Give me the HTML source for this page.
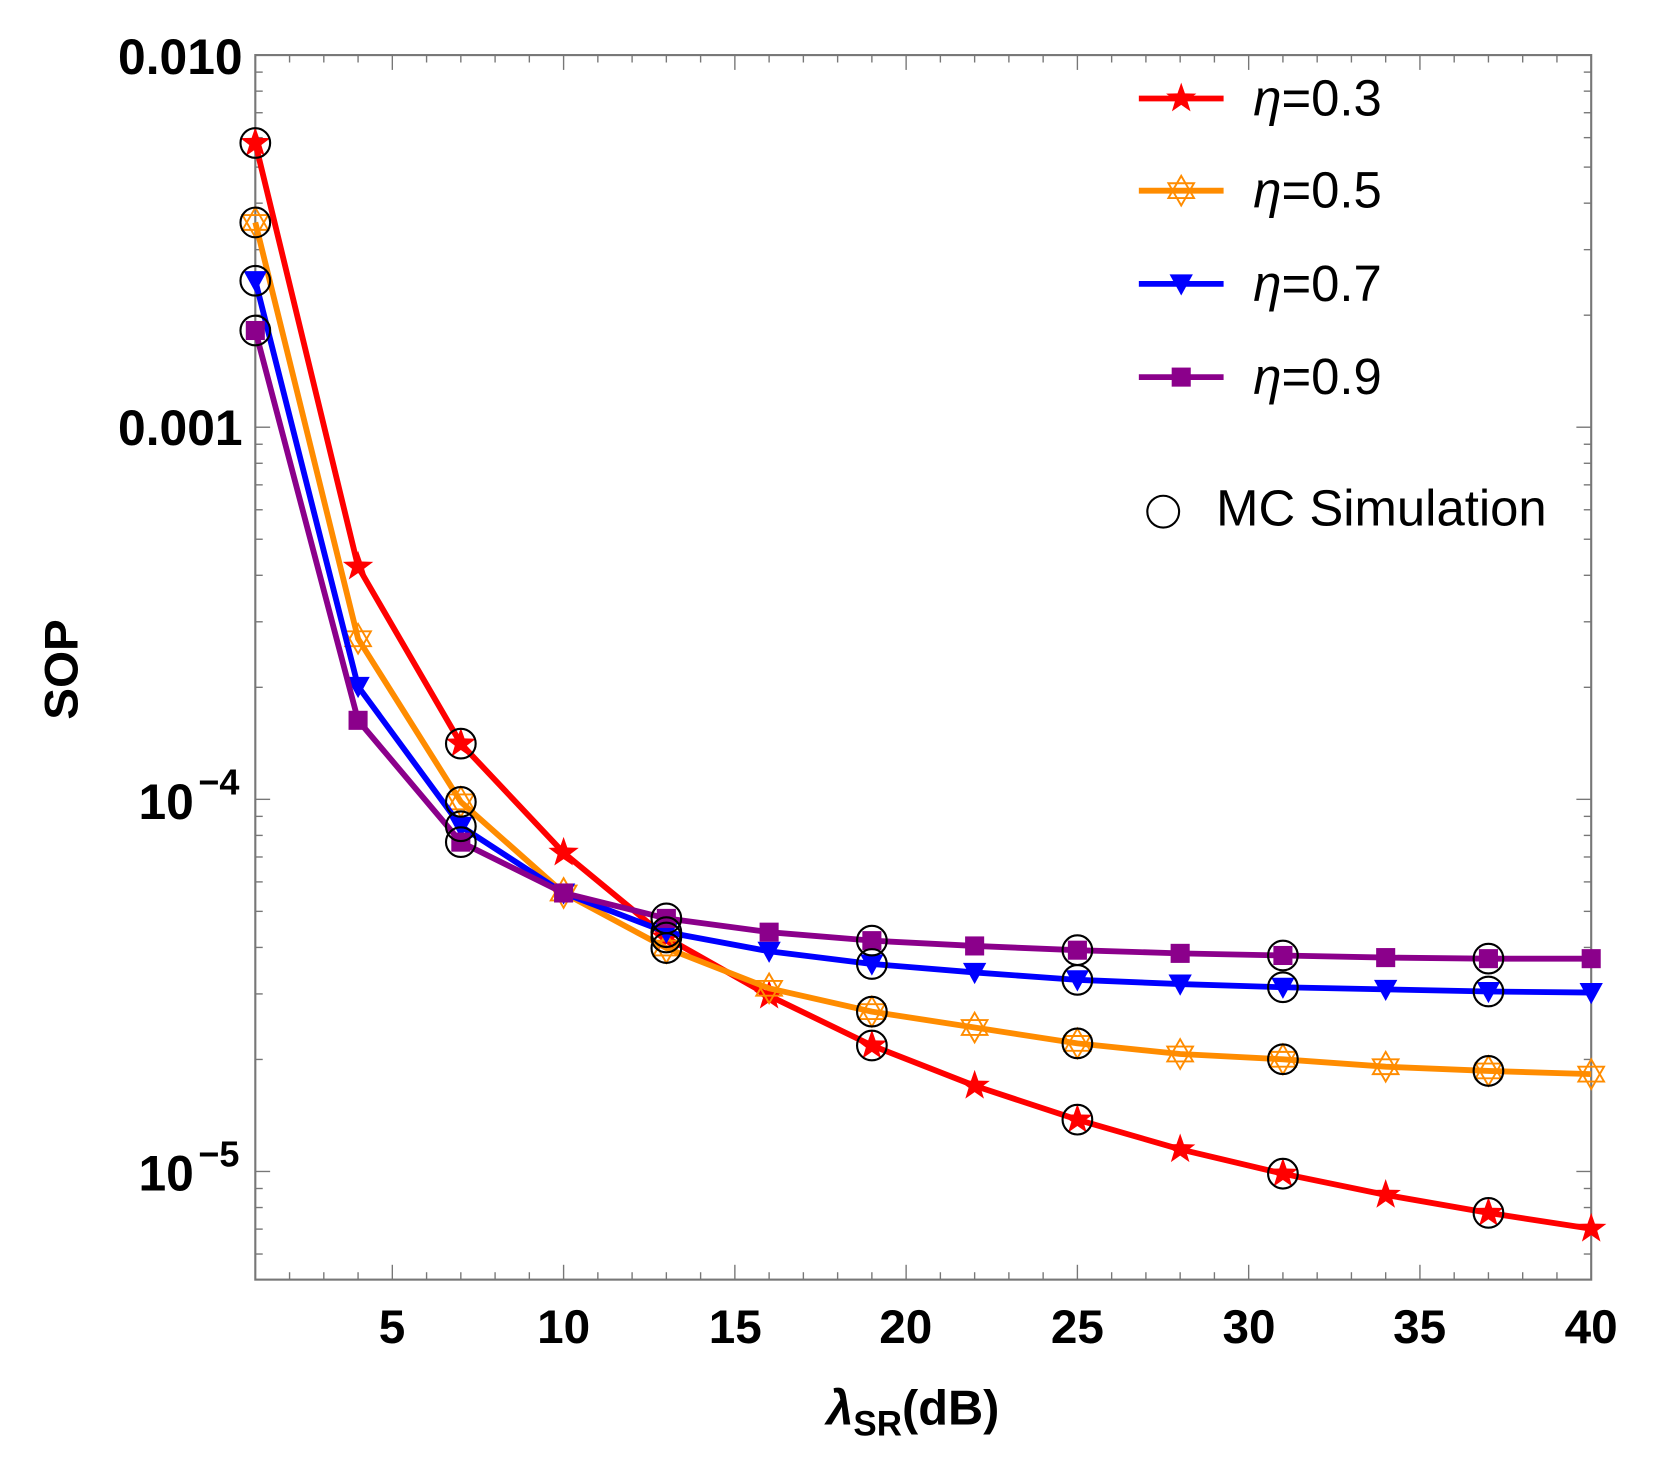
<!DOCTYPE html>
<html><head><meta charset="utf-8"><style>
html,body{margin:0;padding:0;background:#fff;}
svg{display:block;}
</style></head><body>
<svg id="s" width="1659" height="1465" viewBox="0 0 1566 1383" preserveAspectRatio="none" xmlns="http://www.w3.org/2000/svg" font-family="Liberation Sans, Arial, sans-serif">
<g id="ticks" stroke="#777" stroke-width="1.3"></g>
<rect x="241" y="52" width="1261" height="1156" fill="none" stroke="#777" stroke-width="2"/>
<g id="series"></g>
<g font-weight="bold" font-size="47" fill="#000" text-anchor="end">
<text x="229" y="70">0.010</text>
<text x="229" y="420">0.001</text>
<text x="183" y="773">10</text><text x="226" y="750" font-size="34">−4</text>
<text x="183" y="1124">10</text><text x="226" y="1101" font-size="34">−5</text>
</g>
<g font-weight="bold" font-size="45" fill="#000" text-anchor="middle">
<text x="370" y="1268">5</text><text x="532" y="1268">10</text><text x="694" y="1268">15</text><text x="855" y="1268">20</text>
<text x="1017" y="1268">25</text><text x="1179" y="1268">30</text><text x="1340" y="1268">35</text><text x="1502" y="1268">40</text>
</g>
<text transform="translate(73,632) rotate(-90)" text-anchor="middle" font-weight="bold" font-size="45">SOP</text>
<text x="780" y="1345" font-weight="bold" font-size="46"><tspan font-style="italic">λ</tspan><tspan font-size="33" dy="10">SR</tspan><tspan dy="-10">(dB)</tspan></text>
<g id="legend" font-size="48" fill="#000">
<text x="1183" y="109"><tspan font-style="italic">η</tspan>=0.3</text>
<text x="1183" y="196"><tspan font-style="italic">η</tspan>=0.5</text>
<text x="1183" y="284"><tspan font-style="italic">η</tspan>=0.7</text>
<text x="1183" y="372"><tspan font-style="italic">η</tspan>=0.9</text>
<circle cx="1098" cy="483" r="15" fill="none" stroke="#000" stroke-width="2"/>
<text x="1148" y="496">MC Simulation</text>
</g>
</svg>
<script>
var NS="http://www.w3.org/2000/svg";
function el(n,a,p){var e=document.createElementNS(NS,n);for(var k in a)e.setAttribute(k,a[k]);p.appendChild(e);return e;}
var T=document.getElementById('ticks'),S=document.getElementById('series'),L=document.getElementById('legend');
function px(x){return 241+(x-1)*1261/39;}
function py(y){return 52+(-2-Math.log10(y))*351.3;}
for(var x=1;x<=40;x++){var X=px(x),len=(x%5==0)?14:7;
 el('line',{x1:X,y1:1208,x2:X,y2:1208-len},T);el('line',{x1:X,y1:52,x2:X,y2:52+len},T);}
for(var d=-6;d<=-2;d++){for(var m=1;m<10;m++){var v=m*Math.pow(10,d),Y=py(v);if(Y<52||Y>1208)continue;var len=(m==1)?14:7;
 el('line',{x1:241,y1:Y,x2:241+len,y2:Y},T);el('line',{x1:1502,y1:Y,x2:1502-len,y2:Y},T);}}
var xs=[1,4,7,10,13,16,19,22,25,28,31,34,37,40];
var data=[
 ['#f00','star',[135,535,702,805,885,940,987,1025,1057,1085,1108,1128,1145,1160]],
 ['#ff8c00','hex',[210,603,757,843,895,933,955,970,985,995,1000,1007,1011,1014]],
 ['#00f','tri',[265,648,780,843,880,898,910,918,925,929,932,934,936,937]],
 ['#8b008b','sq',[312,680,795,843,867,880,888,893,897,900,902,904,905,905]]];
function marker(t,c,X,Y,g){
 if(t=='star'){var p=[];for(var i=0;i<10;i++){var r=i%2?6:15,a=-Math.PI/2+i*Math.PI/5;p.push((X+r*Math.cos(a)).toFixed(1)+','+(Y+r*Math.sin(a)).toFixed(1));}el('polygon',{points:p.join(' '),fill:c},g);}
 else if(t=='hex'){for(var s=0;s<2;s++){var p=[];for(var i=0;i<3;i++){var a=(s?Math.PI/2:-Math.PI/2)+i*2*Math.PI/3;p.push((X+14*Math.cos(a)).toFixed(1)+','+(Y+14*Math.sin(a)).toFixed(1));}el('polygon',{points:p.join(' '),fill:'none',stroke:c,'stroke-width':1.8},g);}}
 else if(t=='tri'){el('polygon',{points:(X-11)+','+(Y-9)+' '+(X+11)+','+(Y-9)+' '+X+','+(Y+11),fill:c},g);}
 else {el('rect',{x:X-9,y:Y-9,width:18,height:18,fill:c},g);}
}
data.forEach(function(s){var pts=xs.map(function(x,i){return px(x).toFixed(1)+','+s[2][i];});
 el('polyline',{points:pts.join(' '),fill:'none',stroke:s[0],'stroke-width':5.5,'stroke-linejoin':'round'},S);
 xs.forEach(function(x,i){marker(s[1],s[0],px(x),s[2][i],S);});});
data.forEach(function(s){xs.forEach(function(x,i){if((x-1)%6==0)el('circle',{cx:px(x),cy:s[2][i],r:14,fill:'none',stroke:'#000','stroke-width':2},S);});});
[93,180,268,356].forEach(function(Y,i){el('line',{x1:1075,y1:Y,x2:1155,y2:Y,stroke:data[i][0],'stroke-width':5.5},L);marker(data[i][1],data[i][0],1115,Y,L);});
</script>
</body></html>
